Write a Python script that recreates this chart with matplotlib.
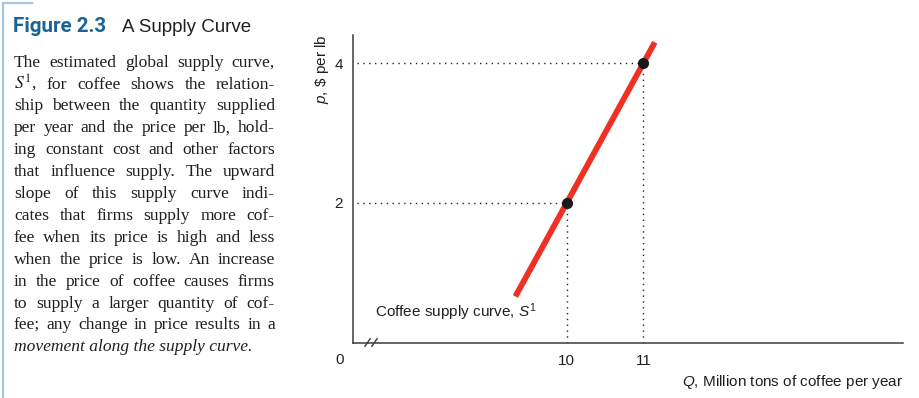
import matplotlib
matplotlib.use("Agg")
import matplotlib.pyplot as plt
from matplotlib.lines import Line2D

W_PX, H_PX = 920, 398

# chart data
point_q = [10, 11]
point_p = [2, 4]
supply_q = [9.33, 11.15]
supply_p = [0.66, 4.30]
x_ticks = [10, 11]
y_ticks = [2, 4]
x_range = [7.206, 14.39]
y_range = [0.0, 4.405]
break_q = [7.40, 7.49]

title_num = "Figure 2.3"
title_txt = "A Supply Curve"
caption_lines = [
    "The estimated global supply curve,",
    "$S^1$, for coffee shows the relation-",
    "ship between the quantity supplied",
    "per year and the price per lb, hold-",
    "ing constant cost and other factors",
    "that influence supply. The upward",
    "slope of this supply curve indi-",
    "cates that firms supply more cof-",
    "fee when its price is high and less",
    "when the price is low. An increase",
    "in the price of coffee causes firms",
    "to supply a larger quantity of cof-",
    "fee; any change in price results in a",
]
caption_last = "movement along the supply curve."
curve_label = r"Coffee supply curve, $S^1$"
x_label = r"$Q$, Million tons of coffee per year"
y_label = r"$p$, \$ per lb"

plt.rcParams['mathtext.fontset'] = 'custom'
plt.rcParams['mathtext.rm'] = 'Liberation Sans'
plt.rcParams['mathtext.it'] = 'Liberation Sans:italic'
plt.rcParams['font.family'] = ['Liberation Sans', 'DejaVu Sans']

INK = '#231f20'
LBL = 11


def fx(px):
    return px / W_PX


def fy(py):
    return 1 - py / H_PX


fig = plt.figure(figsize=(W_PX / 100, H_PX / 100), dpi=100)
renderer = fig.canvas.get_renderer()

# ---- left caption panel ----
fig.add_artist(Line2D([fx(2.7), fx(2.7)], [fy(2.7), 0], color='#a9c6df', lw=1.6))
fig.add_artist(Line2D([fx(2.7), fx(32)], [fy(2.7), fy(2.7)], color='#a9c6df', lw=1.6))

# title number is a condensed heavy face; squeeze Roboto bold to the same width
ttl = fig.text(fx(13), fy(31.5), title_num, family=['Roboto', 'DejaVu Sans'],
               weight='bold', fontsize=16, color='#1b6396', va='baseline')
tw = ttl.get_window_extent(renderer).width
ttl.set_fontsize(16 * 93 / tw)
fig.text(fx(122), fy(31.5), title_txt, fontsize=13.5, color=INK, va='baseline')

body_kw = dict(family=['Liberation Serif', 'DejaVu Serif'], color=INK, math_fontfamily='stix')
left, right = 14, 275
line0, step = 66.7, 21.9


def measure(words, size):
    ws = []
    for w in words:
        t = fig.text(0, 0, w, fontsize=size, **body_kw)
        ws.append(t.get_window_extent(renderer).width)
        t.remove()
    return ws


# shrink the font until every justified line fits
size = 12.6
for _ in range(4):
    widest = 0
    for line in caption_lines:
        words = line.split(' ')
        ws = measure(words, size)
        widest = max(widest, sum(ws) + (len(words) - 1) * 0.13 * size * 100 / 72)
    if widest <= right - left:
        break
    size *= (right - left) / widest

for i, line in enumerate(caption_lines):
    words = line.split(' ')
    ws = measure(words, size)
    gap = (right - left - sum(ws)) / (len(words) - 1)
    x = left
    for w, wd in zip(words, ws):
        fig.text(fx(x), fy(line0 + i * step), w, fontsize=size, va='baseline', **body_kw)
        x += wd + gap
fig.text(fx(left), fy(line0 + len(caption_lines) * step), caption_last, fontsize=size,
         fontstyle='italic', va='baseline', **body_kw)

# ---- chart ----
ax = fig.add_axes([fx(352.7), fy(342.5), fx(903) - fx(352.7), fy(35) - fy(342.5)])
ax.set_xlim(x_range)
ax.set_ylim(y_range)
for s in ['top', 'right']:
    ax.spines[s].set_visible(False)
for s in ['left', 'bottom']:
    ax.spines[s].set_color('#3a3a3a')
    ax.spines[s].set_linewidth(1.1)

ax.set_xticks(x_ticks)
ax.set_yticks(y_ticks)
ax.tick_params(length=0, labelsize=LBL, colors=INK)
ax.tick_params(axis='x', pad=8)
ax.tick_params(axis='y', pad=7)

dots = (0, (1, 3.2))
for q, p in zip(point_q, point_p):
    ax.plot([x_range[0] + 0.06, q], [p, p], color='#222222', lw=1.0, ls=dots)
    ax.plot([q, q], [y_range[0], p], color='#222222', lw=1.0, ls=dots)

ax.plot(supply_q, supply_p, color='#ee3124', lw=4.2, solid_capstyle='butt')
ax.plot(point_q, point_p, 'o', color='#1a1a1a', ms=7, zorder=5)

ax.text(7.494, 0.44, curve_label, fontsize=LBL, color=INK, va='center', ha='left')

# axis break marks
for bq in break_q:
    ax.plot([bq - 0.035, bq + 0.035], [-0.055, 0.055], color='#3a3a3a', lw=1.0, clip_on=False)

fig.text(fx(340), fy(360), "0", fontsize=LBL, color=INK, ha='center', va='center')
fig.text(fx(903), fy(386), x_label, fontsize=LBL, color=INK, ha='right', va='baseline')
fig.text(fx(322.5), fy(35), y_label, fontsize=LBL, color=INK, ha='center', va='top', rotation=90)

fig.savefig("out.png", dpi=100)
